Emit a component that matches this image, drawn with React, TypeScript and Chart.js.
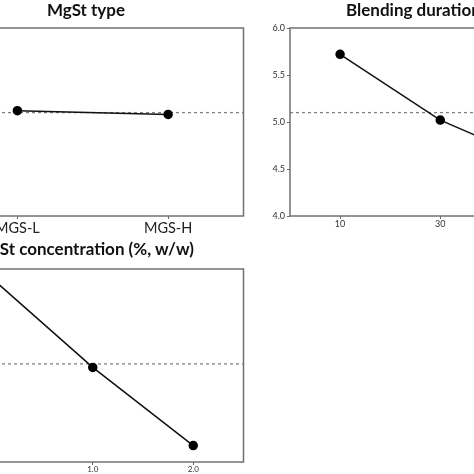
import React, { useEffect, useRef } from "react";
import { Chart, registerables } from "chart.js";

Chart.register(...registerables);

// Main effects: mean response for each factor level
const typeLabels = ["MGS-L", "MGS-H"];
const typeMeans = [5.12, 5.08];

const durationLabels = ["10", "30", "50"];
const durationMeans = [5.72, 5.02, 4.56];

const concLabels = ["0.5", "1.0", "2.0"];
const concMeans = [5.9, 4.98, 4.17];

const yMin = 4.0;
const yMax = 6.0;
const yStep = 0.5;

const average = (v: number[]) => v.reduce((a, b) => a + b, 0) / v.length;

// Box around the plotting area
const framePlugin = {
  id: "panelFrame",
  afterDraw(chart: any, _args: any, opts: any) {
    const { ctx, chartArea: a } = chart;
    ctx.save();
    ctx.strokeStyle = opts.color || "#6e6e6e";
    ctx.lineWidth = opts.width || 1.5;
    ctx.strokeRect(a.left, a.top, a.right - a.left, a.bottom - a.top);
    ctx.restore();
  },
};

// Dashed horizontal line at the overall mean
const meanLinePlugin = {
  id: "meanLine",
  beforeDatasetsDraw(chart: any, _args: any, opts: any) {
    const { ctx, chartArea: a } = chart;
    const y = chart.scales.y.getPixelForValue(opts.value);
    ctx.save();
    ctx.strokeStyle = opts.color || "#8a8a8a";
    ctx.lineWidth = 1.3;
    ctx.setLineDash([3, 3]);
    ctx.beginPath();
    ctx.moveTo(a.left, y);
    ctx.lineTo(a.right, y);
    ctx.stroke();
    ctx.restore();
  },
};

type PanelProps = {
  labels: string[];
  values: number[];
  left: number;
  top: number;
  width: number;
  height: number;
  padTop: number;
  padRight: number;
  xAxisHeight: number;
  xFontSize: number;
  xPadding: number;
  xColor: string;
};

function Panel(p: PanelProps) {
  const ref = useRef<HTMLCanvasElement | null>(null);

  useEffect(() => {
    if (!ref.current) return;
    const chart = new Chart(ref.current, {
      type: "line",
      data: {
        labels: p.labels,
        datasets: [
          {
            data: p.values,
            borderColor: "#111",
            borderWidth: 1.5,
            pointBackgroundColor: "#000",
            pointBorderColor: "#000",
            pointRadius: 4,
            tension: 0,
          },
        ],
      },
      options: {
        responsive: false,
        animation: false,
        devicePixelRatio: 1,
        layout: { padding: { top: p.padTop, right: p.padRight, left: 0, bottom: 0 } },
        plugins: {
          legend: { display: false },
          tooltip: { enabled: false },
          title: { display: false },
          panelFrame: { color: "#707070", width: 1.5 },
          meanLine: { value: average(p.values), color: "#808080" },
        } as any,
        scales: {
          x: {
            type: "category",
            offset: true,
            grid: {
              offset: false,
              drawOnChartArea: false,
              drawTicks: true,
              tickLength: 3,
              color: "#666",
            },
            border: { display: false },
            ticks: {
              font: { family: "Lato", size: p.xFontSize },
              color: p.xColor,
              padding: p.xPadding,
              maxRotation: 0,
              autoSkip: false,
            },
            afterFit: (s: any) => {
              s.height = p.xAxisHeight;
            },
          },
          y: {
            min: yMin,
            max: yMax,
            grid: {
              drawOnChartArea: false,
              drawTicks: true,
              tickLength: 3,
              color: "#666",
            },
            border: { display: false },
            ticks: {
              stepSize: yStep,
              font: { family: "Lato", size: 9 },
              color: "#333",
              padding: 2,
              callback: (v: any) => Number(v).toFixed(1),
            },
            afterFit: (s: any) => {
              s.width = 30;
            },
          },
        },
      },
      plugins: [framePlugin, meanLinePlugin],
    });
    return () => chart.destroy();
  }, []);

  return (
    <canvas
      ref={ref}
      width={p.width}
      height={p.height}
      style={{
        position: "absolute",
        left: p.left,
        top: p.top,
        width: p.width,
        height: p.height,
      }}
    />
  );
}

const titleStyle: React.CSSProperties = {
  position: "absolute",
  fontFamily: "Lato, sans-serif",
  fontWeight: 700,
  fontSize: 17,
  color: "#111",
  whiteSpace: "nowrap",
  lineHeight: "20px",
};

export default function App() {
  return (
    <div
      style={{
        position: "fixed",
        left: 0,
        top: 0,
        width: 474,
        height: 474,
        overflow: "hidden",
        background: "#fff",
      }}
    >
      <Panel
        labels={typeLabels}
        values={typeMeans}
        left={-88}
        top={0}
        width={337}
        height={240}
        padTop={28}
        padRight={4}
        xAxisHeight={24}
        xFontSize={14.5}
        xPadding={1}
        xColor="#222"
      />
      <Panel
        labels={durationLabels}
        values={durationMeans}
        left={260}
        top={0}
        width={336}
        height={240}
        padTop={28}
        padRight={4}
        xAxisHeight={24}
        xFontSize={9}
        xPadding={0}
        xColor="#333"
      />
      <Panel
        labels={concLabels}
        values={concMeans}
        left={-88}
        top={260}
        width={337}
        height={218}
        padTop={9}
        padRight={4}
        xAxisHeight={16}
        xFontSize={8}
        xPadding={0}
        xColor="#333"
      />
      <div style={{ ...titleStyle, left: -14, width: 200, top: 0, textAlign: "center" }}>MgSt type</div>
      <div style={{ ...titleStyle, left: 346, top: 0 }}>Blending duration</div>
      <div style={{ ...titleStyle, left: -25, width: 200, top: 239, textAlign: "center" }}>
        MgSt concentration (%, w/w)
      </div>
    </div>
  );
}
